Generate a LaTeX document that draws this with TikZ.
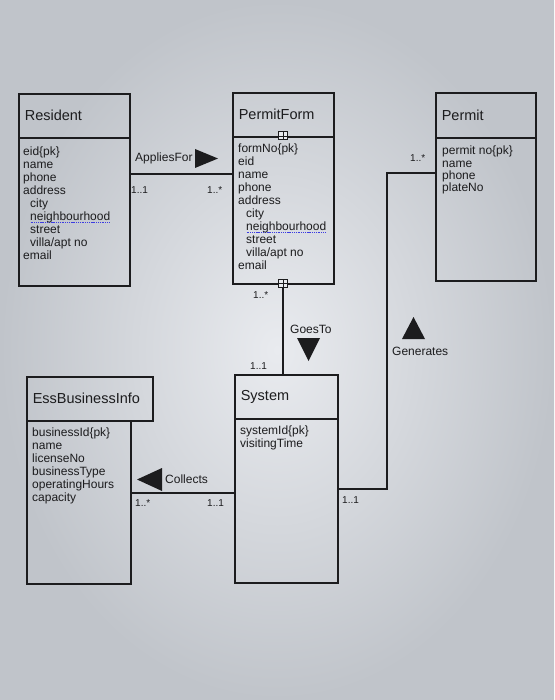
\documentclass[tikz,border=0pt]{standalone}
\usepackage{fontspec}
\setmainfont{Liberation Sans}
\usepackage{xcolor}
\definecolor{bgc}{RGB}{233,235,239}
\definecolor{bgd}{RGB}{192,196,202}
\definecolor{ink}{RGB}{28,28,30}
\definecolor{spell}{RGB}{60,60,225}
\newsavebox{\spellbox}
\newcommand{\spellmark}[1]{\sbox{\spellbox}{#1}\rlap{\color{spell}\raisebox{-2.6pt}{\hbox to \wd\spellbox{\xleaders\hbox to 1.8pt{\hss\rule{1.1pt}{1pt}\hss}\hfill}}}#1}

\begin{document}
\begin{tikzpicture}[x=1pt,y=-1pt,
  hdr/.style={draw=ink,line width=1.6pt,anchor=north west,minimum height=44pt,inner xsep=6pt,align=left,font=\fontsize{14.5}{16}\selectfont,text=ink},
  bodybox/.style={draw=ink,line width=1.6pt,anchor=north west},
  attr/.style={anchor=north west,inner sep=0pt,align=left,font=\fontsize{12}{13}\selectfont,text=ink},
  lbl/.style={anchor=west,inner sep=0pt,font=\fontsize{12}{13}\selectfont,text=ink},
  mult/.style={anchor=west,inner sep=0pt,font=\fontsize{10}{12}\selectfont,text=ink},
  assoc/.style={draw=ink,line width=1.6pt},
  port/.style={draw=ink,line width=1pt,fill=bgc,minimum width=9pt,minimum height=8pt,inner sep=0pt,
    path picture={\draw[ink,line width=0.8pt] (path picture bounding box.north) -- (path picture bounding box.south)
      (path picture bounding box.west) -- (path picture bounding box.east);}}]
  \useasboundingbox (0,0) rectangle (554,700);
  \shade[inner color=bgc,outer color=bgd] (0,0) rectangle (554,700);

  \node[hdr,text width=99pt] (resh) at (18,93) {Resident};
  \node[bodybox,minimum width=111pt,minimum height=148pt] (resb) at (18,137) {};
  \node[hdr,text width=89pt] (pfh) at (232,92) {PermitForm};
  \node[bodybox,minimum width=101pt,minimum height=147pt] (pfb) at (232,136) {};
  \node[hdr,text width=88pt,minimum height=45pt] (permh) at (435,92) {Permit};
  \node[bodybox,minimum width=100pt,minimum height=143pt] (permb) at (435,137) {};
  \node[hdr,text width=114pt] (essh) at (26,376) {EssBusinessInfo};
  \node[bodybox,minimum width=104pt,minimum height=163pt] (essb) at (26,420) {};
  \node[hdr,text width=91pt] (sysh) at (234,374) {System};
  \node[bodybox,minimum width=103pt,minimum height=164pt] (sysb) at (234,418) {};

  \node[port] (pftop) at (283,136) {};
  \node[port] (pfbot) at (283,283) {};
  \coordinate (af) at (180,174);
  \coordinate (gtop) at (387,173);
  \coordinate (gbot) at (387,489);
  \coordinate (col) at (180,493);
  \draw[assoc] (resb.east |- af) -- (pfb.west |- af);
  \draw[assoc] (pfbot.south) -- (pfbot.south |- sysh.north);
  \draw[assoc] (permb.west |- gtop) -- (gtop) -- (gbot) -- (sysb.east |- gbot);
  \draw[assoc] (essb.east |- col) -- (sysb.west |- col);

  \fill[ink] (195,149) -- (218,158.5) -- (195,168) -- cycle;
  \fill[ink] (297,338) -- (320,338) -- (308.5,361) -- cycle;
  \fill[ink] (402,339) -- (425,339) -- (413.5,317) -- cycle;
  \fill[ink] (162,468) -- (162,491) -- (137,479.5) -- cycle;

  \node[attr] (resa) at (23,147) {eid\{pk\}\\name\\phone\\address\\\hspace*{7pt}city\\\hspace*{7pt}\spellmark{neighbourhood}\\\hspace*{7pt}street\\\hspace*{7pt}villa/apt no\\email};
  \node[attr] (pfa) at (238,144) {formNo\{pk\}\\eid\\name\\phone\\address\\\hspace*{8pt}city\\\hspace*{8pt}\spellmark{neighbourhood}\\\hspace*{8pt}street\\\hspace*{8pt}villa/apt no\\email};
  \node[attr,font=\fontsize{12}{12.2}\selectfont] (perma) at (442,146) {permit no\{pk\}\\name\\phone\\plateNo};
  \node[attr] (essa) at (32,428) {businessId\{pk\}\\name\\licenseNo\\businessType\\operatingHours\\capacity};
  \node[attr,font=\fontsize{12}{12.2}\selectfont] (sysa) at (240,426) {systemId\{pk\}\\visitingTime};

  \node[lbl] (appl) at (135,158) {AppliesFor};
  \node[mult] (apm1) at (131,190) {1..1};
  \node[mult] (apm2) at (207,190) {1..*};
  \node[mult] (genm1) at (410,158) {1..*};
  \node[lbl] (genl) at (392,351) {Generates};
  \node[mult] (genm2) at (342,500) {1..1};
  \node[mult] (gom1) at (253,295) {1..*};
  \node[lbl] (gol) at (290,329) {GoesTo};
  \node[mult] (gom2) at (250,366) {1..1};
  \node[lbl] (coll) at (165,479) {Collects};
  \node[mult] (colm1) at (135,503) {1..*};
  \node[mult] (colm2) at (207,503) {1..1};
\end{tikzpicture}
\end{document}
